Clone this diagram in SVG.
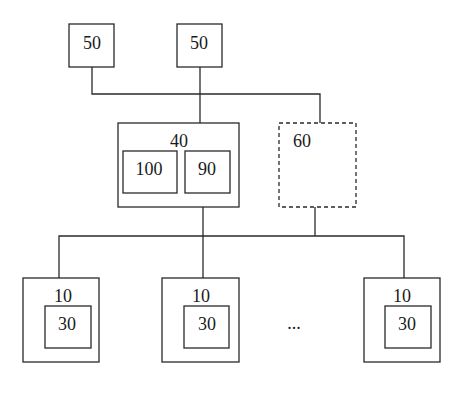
<svg xmlns="http://www.w3.org/2000/svg" width="474" height="402" viewBox="0 0 474 402">
<style>
rect{fill:none;stroke:#2a2a2a;stroke-width:1.3}
.d{stroke-dasharray:4 3}
line,polyline{fill:none;stroke:#2a2a2a;stroke-width:1.3}
text{font-family:"Liberation Serif","Times New Roman",serif;font-size:18px;fill:#1a1a1a;text-anchor:middle}
</style>
<rect x="0" y="0" width="474" height="402" style="fill:#fff;stroke:none"/>
<g id="connectors">
<polyline points="92,67 92,94 320,94 320,123"/>
<line x1="200" y1="67" x2="200" y2="123"/>
<line x1="203" y1="207" x2="203" y2="278"/>
<line x1="315" y1="207" x2="315" y2="236"/>
<polyline points="59,278 59,236 404,236 404,278"/>
</g>
<g id="n50a"><rect x="69" y="24" width="45" height="43"/><text x="92" y="49">50</text></g>
<g id="n50b"><rect x="177" y="24" width="45" height="43"/><text x="199" y="49">50</text></g>
<g id="n40"><rect x="118" y="123" width="121" height="84"/><text x="179" y="147">40</text>
<g id="n100"><rect x="123" y="151" width="54" height="42"/><text x="149" y="175">100</text></g>
<g id="n90"><rect x="185" y="151" width="45" height="42"/><text x="207" y="175">90</text></g>
</g>
<g id="n60"><rect class="d" x="279" y="123" width="77" height="84"/><text x="302" y="147">60</text></g>
<g id="n10a"><rect x="23" y="278" width="76" height="84"/><text x="63" y="302">10</text>
<g id="n30a"><rect x="45" y="306" width="46" height="42"/><text x="67" y="330">30</text></g></g>
<g id="n10b"><rect x="162" y="278" width="77" height="84"/><text x="201" y="302">10</text>
<g id="n30b"><rect x="184" y="306" width="45" height="42"/><text x="207" y="330">30</text></g></g>
<g id="n10c"><rect x="364" y="278" width="76" height="84"/><text x="402" y="302">10</text>
<g id="n30c"><rect x="385" y="306" width="46" height="42"/><text x="407" y="330">30</text></g></g>
<text x="294" y="329">...</text>
</svg>
